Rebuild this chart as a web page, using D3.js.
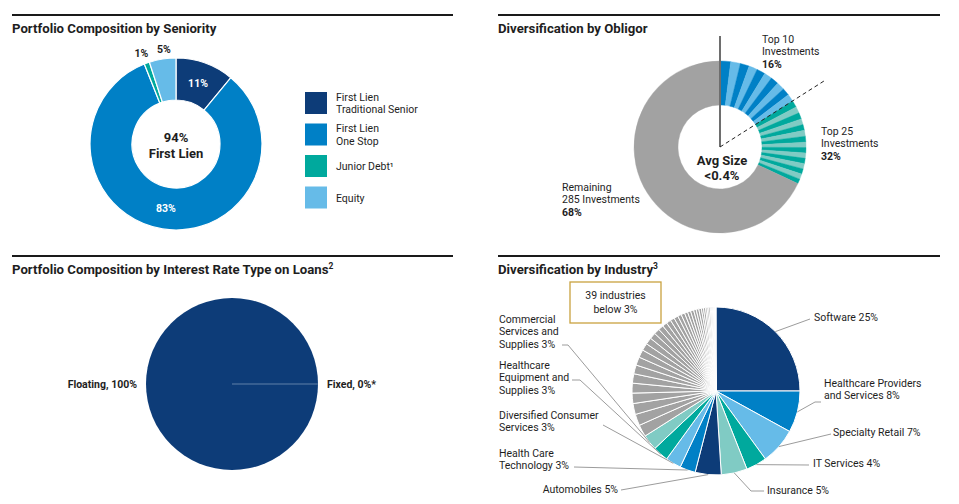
<!DOCTYPE html>
<html>
<head>
<meta charset="utf-8">
<script src="https://cdn.jsdelivr.net/npm/d3@7"></script>
<style>
  body { margin: 0; background: #fff; }
  text { font-family: Roboto, "Noto Sans", sans-serif; fill: #1e1e1e; }
</style>
</head>
<body>
<div id="chart"></div>
<script>
// seniority
const seniorityNames = ['First Lien|Traditional Senior', 'First Lien|One Stop', 'Junior Debt¹', 'Equity'];
const seniorityValues = [11, 83, 1, 5];

// obligor (top 10, investments 11-25, remaining 285)
const top10Values = [2.0, 1.8, 1.7, 1.6, 1.6, 1.5, 1.5, 1.5, 1.4, 1.4];
const top25Values = [1.3, 1.2, 1.2, 1.1, 1.1, 1.1, 1.1, 1.0, 1.0, 1.0, 1.0, 1.0, 1.0, 1.0, 0.9];
const remainingValue = 68;

// interest rate type
const rateNames = ['Floating', 'Fixed'];
const rateValues = [100, 0];
const rateLabels = ['Floating, 100%', 'Fixed, 0%*'];

// industry
const industryNames = ['Software', 'Healthcare Providers|and Services', 'Specialty Retail', 'IT Services',
    'Insurance', 'Automobiles', 'Health Care|Technology', 'Diversified Consumer|Services',
    'Healthcare|Equipment and|Supplies', 'Commercial|Services and|Supplies'];
const industryValues = [25, 8, 7, 4, 5, 5, 3, 3, 3, 3];
// 39 industries below 3%
const smallIndustryValues = [2.3, 2.2, 2.1, 2.0, 1.9, 1.8, 1.7, 1.6, 1.5, 1.4, 1.3, 1.2, 1.1, 1.0, 0.9,
    0.9, 0.8, 0.8, 0.7, 0.7, 0.6, 0.6, 0.6, 0.5, 0.5, 0.5, 0.4, 0.4, 0.3, 0.3, 0.3, 0.2, 0.2, 0.2,
    0.1, 0.1, 0.1, 0.1, 0.1];

const navy = '#0d3c78', blue = '#0080c6', sky = '#66bbe8', teal = '#00a99d', mint = '#80cbc4', grey = '#a2a2a2';

const svg = d3.select('#chart').append('svg')
    .attr('width', 959)
    .attr('height', 504);

function header(x0, x1, y, title, sup) {
    svg.append('line')
        .attr('x1', x0).attr('x2', x1)
        .attr('y1', y).attr('y2', y)
        .attr('stroke', '#1a1a1a')
        .attr('stroke-width', 2);
    const t = svg.append('text')
        .attr('x', x0)
        .attr('y', y + 17.5)
        .attr('font-size', 13.2)
        .attr('font-weight', 'bold')
        .text(title);
    if (sup) t.append('tspan').attr('font-size', 8.5).attr('dy', -5).text(sup);
}

function multi(g, x, y, str, opts) {
    opts = opts || {};
    const t = g.append('text')
        .attr('font-size', opts.size || 10.5)
        .attr('text-anchor', opts.anchor || 'start');
    str.split('|').forEach(function(s, i) {
        t.append('tspan')
            .attr('x', x)
            .attr('y', y + i * (opts.lh || 12.5))
            .attr('font-weight', opts.boldLast && i === str.split('|').length - 1 ? 'bold' : null)
            .text(s);
    });
    return t;
}

header(12, 453, 15, 'Portfolio Composition by Seniority');
header(498, 940, 15, 'Diversification by Obligor');
header(12, 453, 256, 'Portfolio Composition by Interest Rate Type on Loans', '2');
header(498, 940, 256, 'Diversification by Industry', '3');

// ---- seniority donut
const senColors = [navy, blue, teal, sky];
const arc1 = d3.arc().innerRadius(44).outerRadius(86);
const labelArc1 = d3.arc().innerRadius(96).outerRadius(96);
const pie1 = d3.pie().sort(null).value(d => d)(seniorityValues);
const g1 = svg.append('g').attr('transform', 'translate(176,144)');

g1.selectAll('path')
    .data(pie1)
    .enter()
    .append('path')
    .attr('d', arc1)
    .attr('fill', (d, i) => senColors[i])
    .attr('stroke', '#fff')
    .attr('stroke-width', 1.2);

g1.selectAll('text.val')
    .data(pie1)
    .enter()
    .append('text')
    .attr('class', 'val')
    .each(function(d, i) {
        const inside = d.data > 8;
        const c = inside ? arc1.centroid(d) : labelArc1.centroid(d);
        d3.select(this)
            .attr('x', c[0] + (inside ? 0 : (i === 2 ? -2 : 3)))
            .attr('y', c[1])
            .attr('dy', '0.35em')
            .attr('text-anchor', 'middle')
            .attr('font-size', 10.5)
            .attr('font-weight', 'bold')
            .style('fill', inside ? '#fff' : '#1e1e1e')
            .text(d.data + '%');
    });

g1.append('text').attr('text-anchor', 'middle').attr('y', -2).attr('font-size', 13).attr('font-weight', 'bold').text('94%');
g1.append('text').attr('text-anchor', 'middle').attr('y', 14).attr('font-size', 13).attr('font-weight', 'bold').text('First Lien');

const legend = svg.append('g').attr('transform', 'translate(305,92)');
seniorityNames.forEach(function(n, i) {
    const y = i * 31.5;
    legend.append('rect').attr('x', 0).attr('y', y).attr('width', 22).attr('height', 22).attr('fill', senColors[i]);
    const nl = n.split('|').length;
    multi(legend, 31, y + (nl === 1 ? 15 : 8.5), n, {lh: 12.8});
});

// ---- obligor donut
const obligor = top10Values.map((v, i) => ({v: v, c: i % 2 ? sky : blue}))
    .concat(top25Values.map((v, i) => ({v: v, c: i % 2 ? mint : teal})))
    .concat([{v: remainingValue, c: grey}]);
const arc2 = d3.arc().innerRadius(42).outerRadius(86);
const pie2 = d3.pie().sort(null).value(d => d.v)(obligor);
const g2 = svg.append('g').attr('transform', 'translate(720,147)');

g2.selectAll('path')
    .data(pie2)
    .enter()
    .append('path')
    .attr('d', arc2)
    .attr('fill', d => d.data.c)
    .attr('stroke', d => d.data.c)
    .attr('stroke-width', 0.4);

g2.append('line')
    .attr('x1', 0).attr('y1', 0).attr('x2', 0).attr('y2', -111)
    .attr('stroke', '#6e6e6e').attr('stroke-width', 2);

const cut = pie2[top10Values.length - 1].endAngle;
g2.append('line')
    .attr('x1', 0).attr('y1', 0)
    .attr('x2', 123 * Math.sin(cut)).attr('y2', -123 * Math.cos(cut))
    .attr('stroke', '#222').attr('stroke-width', 1).attr('stroke-dasharray', '4,3');

const top10Sum = d3.sum(top10Values);
const top25Sum = top10Sum + d3.sum(top25Values);
multi(svg, 762, 43, 'Top 10|Investments|' + Math.round(top10Sum) + '%', {boldLast: true, lh: 12.3});
multi(svg, 821, 135, 'Top 25|Investments|' + Math.round(top25Sum) + '%', {boldLast: true, lh: 12.3});
multi(svg, 562, 191, 'Remaining|285 Investments|' + remainingValue + '%', {boldLast: true, lh: 12.3});

g2.append('text').attr('text-anchor', 'middle').attr('x', 2).attr('y', 18).attr('font-size', 13).attr('font-weight', 'bold').text('Avg Size');
g2.append('text').attr('text-anchor', 'middle').attr('x', 2).attr('y', 33).attr('font-size', 13).attr('font-weight', 'bold').text('<0.4%');

// ---- interest rate pie
const r3 = 86;
const arc3 = d3.arc().innerRadius(0).outerRadius(r3);
const pie3 = d3.pie().sort(null).value(d => d)
    .startAngle(Math.PI / 2).endAngle(Math.PI / 2 + 2 * Math.PI)(rateValues);
const g3 = svg.append('g').attr('transform', 'translate(232,384)');

g3.selectAll('path')
    .data(pie3)
    .enter()
    .append('path')
    .attr('d', arc3)
    .attr('fill', navy)
    .attr('stroke', (d, i) => i === 1 ? '#5f7fa8' : 'none')
    .attr('stroke-width', 0.6);

g3.append('text').attr('x', -(r3 + 9)).attr('y', 3.5).attr('text-anchor', 'end')
    .attr('font-size', 10.5).attr('font-weight', 'bold').text(rateLabels[0]);
g3.append('text').attr('x', r3 + 9).attr('y', 3.5)
    .attr('font-size', 10.5).attr('font-weight', 'bold').text(rateLabels[1]);

// ---- industry pie
const indColors = [navy, blue, sky, teal, mint, navy, blue, sky, teal, mint];
const industries = industryValues.map((v, i) => ({v: v, name: industryNames[i], c: indColors[i]}))
    .concat(smallIndustryValues.map(v => ({v: v, name: null, c: grey})));
const r4 = 84;
const arc4 = d3.arc().innerRadius(0).outerRadius(r4);
const pie4 = d3.pie().sort(null).value(d => d.v)(industries);
const cx4 = 716, cy4 = 391;
const g4 = svg.append('g').attr('transform', `translate(${cx4},${cy4})`);

g4.selectAll('path')
    .data(pie4)
    .enter()
    .append('path')
    .attr('d', arc4)
    .attr('fill', d => d.data.c)
    .attr('stroke', '#fff')
    .attr('stroke-width', 1);

// label layout: text position, anchor, leader line points (page coords)
const indLayout = [
    {x: 814, y: 321, a: 'start', pts: [[810, 319]]},
    {x: 824, y: 387, a: 'start', pts: [[815, 402], [821, 402]]},
    {x: 833, y: 436, a: 'start', pts: [[831, 434]]},
    {x: 813, y: 467, a: 'start', pts: [[809, 465]]},
    {x: 767, y: 494, a: 'start', pts: [[751, 491], [764, 491]]},
    {x: 618, y: 493, a: 'end', pts: [[621, 490]]},
    {x: 499, y: 457, a: 'start', pts: [[574, 467]]},
    {x: 499, y: 419, a: 'start', pts: [[603, 425]]},
    {x: 499, y: 369, a: 'start', pts: [[580, 380], [572, 380]]},
    {x: 499, y: 323, a: 'start', pts: [[568, 345], [562, 345]]}
];

const lineGen = d3.line();
pie4.slice(0, industryValues.length).forEach(function(d, i) {
    const L = indLayout[i];
    const m = (d.startAngle + d.endAngle) / 2;
    const p0 = [cx4 + r4 * Math.sin(m), cy4 - r4 * Math.cos(m)];
    svg.append('path')
        .attr('d', lineGen([p0].concat(L.pts)))
        .attr('fill', 'none')
        .attr('stroke', '#9c9c9c')
        .attr('stroke-width', 1);
    multi(svg, L.x, L.y, d.data.name + ' ' + d.data.v + '%', {anchor: L.a, lh: 12.3});
});

svg.append('rect')
    .attr('x', 570).attr('y', 282).attr('width', 91).attr('height', 41)
    .attr('fill', '#fff').attr('stroke', '#c9a23f').attr('stroke-width', 1.3);
multi(svg, 615.5, 299, smallIndustryValues.length + ' industries|below 3%', {anchor: 'middle', lh: 13.5});
</script>
</body>
</html>
